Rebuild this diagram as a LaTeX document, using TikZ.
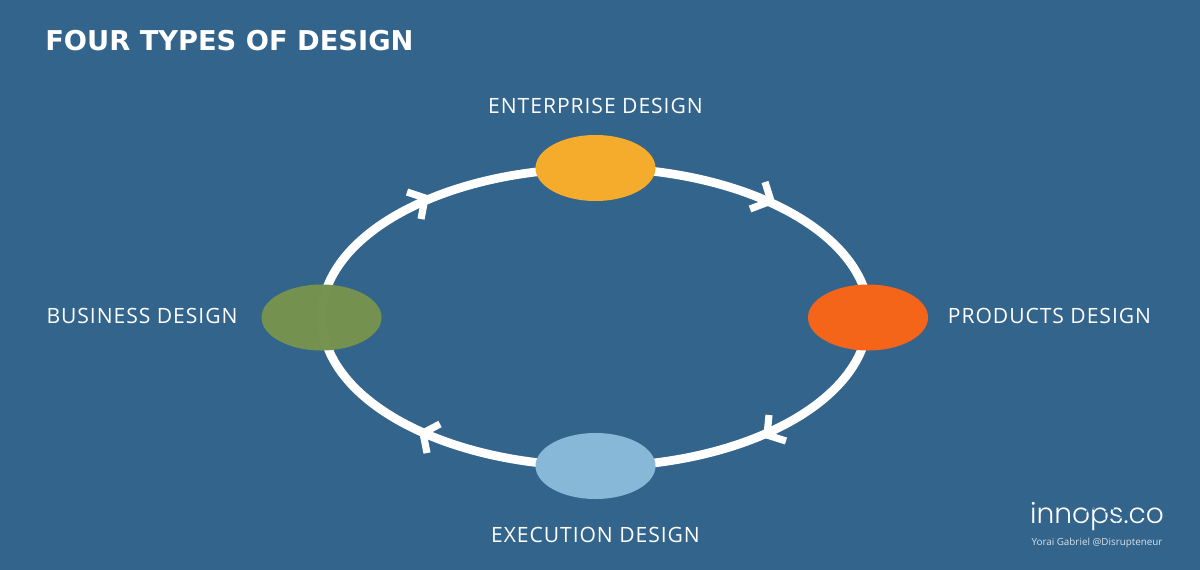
\documentclass[tikz,border=0pt]{standalone}
\usepackage{fontspec}
\setmainfont{Open Sans}
\newfontfamily\titlefont[UprightFont=* Bold]{DejaVu Sans}
\newfontfamily\labfont[LetterSpace=4.5]{Open Sans}
\newfontfamily\logofont[UprightFont=* Light]{Poppins}
\usetikzlibrary{backgrounds,shapes.geometric}
\definecolor{bgblue}{HTML}{33648C}
\definecolor{ent}{HTML}{F5AB2B}
\definecolor{prod}{HTML}{F4651A}
\definecolor{exe}{HTML}{87B8D8}
\definecolor{biz}{HTML}{76924F}
\tikzset{
  x=0.025cm,y=-0.025cm,
  hub/.style={ellipse,minimum width=3cm,minimum height=1.65cm,inner sep=0pt},
  ring/.style={draw=white,line width=6.2pt},
  barb/.style={draw=white,line width=5.1pt,miter limit=10},
  lab/.style={text=white,font=\labfont\fontsize{15}{18}\selectfont,inner sep=0pt},
  cut/.style={draw=bgblue,line width=1.3pt,dash pattern=on 1.2pt off 4.2pt},
}
\begin{document}
\begin{tikzpicture}
\begin{scope}[on background layer]
\path[use as bounding box,fill=bgblue] (0,0) rectangle (1200,570);
\end{scope}
\node[anchor=west,text=white,inner sep=0pt,font=\titlefont\fontsize{19.4}{24}\selectfont] (title) at (45,40.5) {FOUR TYPES OF DESIGN};
\node[hub,fill=ent] (top) at (595.5,168) {};
\node[hub,fill=prod] (right) at (868,317.5) {};
\node[hub,fill=exe] (bottom) at (595.5,466) {};
\node[hub,fill=biz,fill opacity=0.99] (left) at (321.5,317.5) {};
\node[lab] (lt) at (595.5,106) {ENTERPRISE DESIGN};
\node[lab] (lr) at (1049.5,316) {PRODUCTS DESIGN};
\node[lab] (lb) at (595.5,535) {EXECUTION DESIGN};
\node[lab] (ll) at (142,316) {BUSINESS DESIGN};
\node[text=white,inner sep=0pt,font=\logofont\fontsize{20}{24}\selectfont] (logo) at (1097,517) {innops.co};
\node[text=white!80!bgblue,inner sep=0pt,font=\fontsize{7}{8}\selectfont] (credit) at (1097,543) {Yorai Gabriel @Disrupteneur};
\draw[cut] ([xshift=-3.1pt,yshift=0.2pt]logo.center) circle[radius=8.2];
\draw[cut] ([xshift=11pt,yshift=0.2pt]logo.center) circle[radius=8.2];
\begin{scope}[on background layer]
\draw[ring] (top.center) arc[start angle=-90,end angle=0,x radius=273.5,y radius=149];
\draw[ring] (right.center) arc[start angle=0,end angle=90,x radius=273.5,y radius=149];
\draw[ring] (bottom.center) arc[start angle=90,end angle=180,x radius=273.5,y radius=149];
\draw[ring] (left.center) arc[start angle=180,end angle=270,x radius=273.5,y radius=149];
\coordinate (a1) at (407,192); \coordinate (a2) at (425,198); \coordinate (a3) at (421,219);
\coordinate (b1) at (765,182); \coordinate (b2) at (771,201); \coordinate (b3) at (750,209);
\coordinate (c1) at (769,415); \coordinate (c2) at (767,435); \coordinate (c3) at (786,441);
\coordinate (d1) at (440,424); \coordinate (d2) at (423,433); \coordinate (d3) at (427,453);
\draw[barb] (a1)--(a2)--(a3);
\draw[barb] (b1)--(b2)--(b3);
\draw[barb] (c1)--(c2)--(c3);
\draw[barb] (d1)--(d2)--(d3);
\end{scope}
\end{tikzpicture}
\end{document}
